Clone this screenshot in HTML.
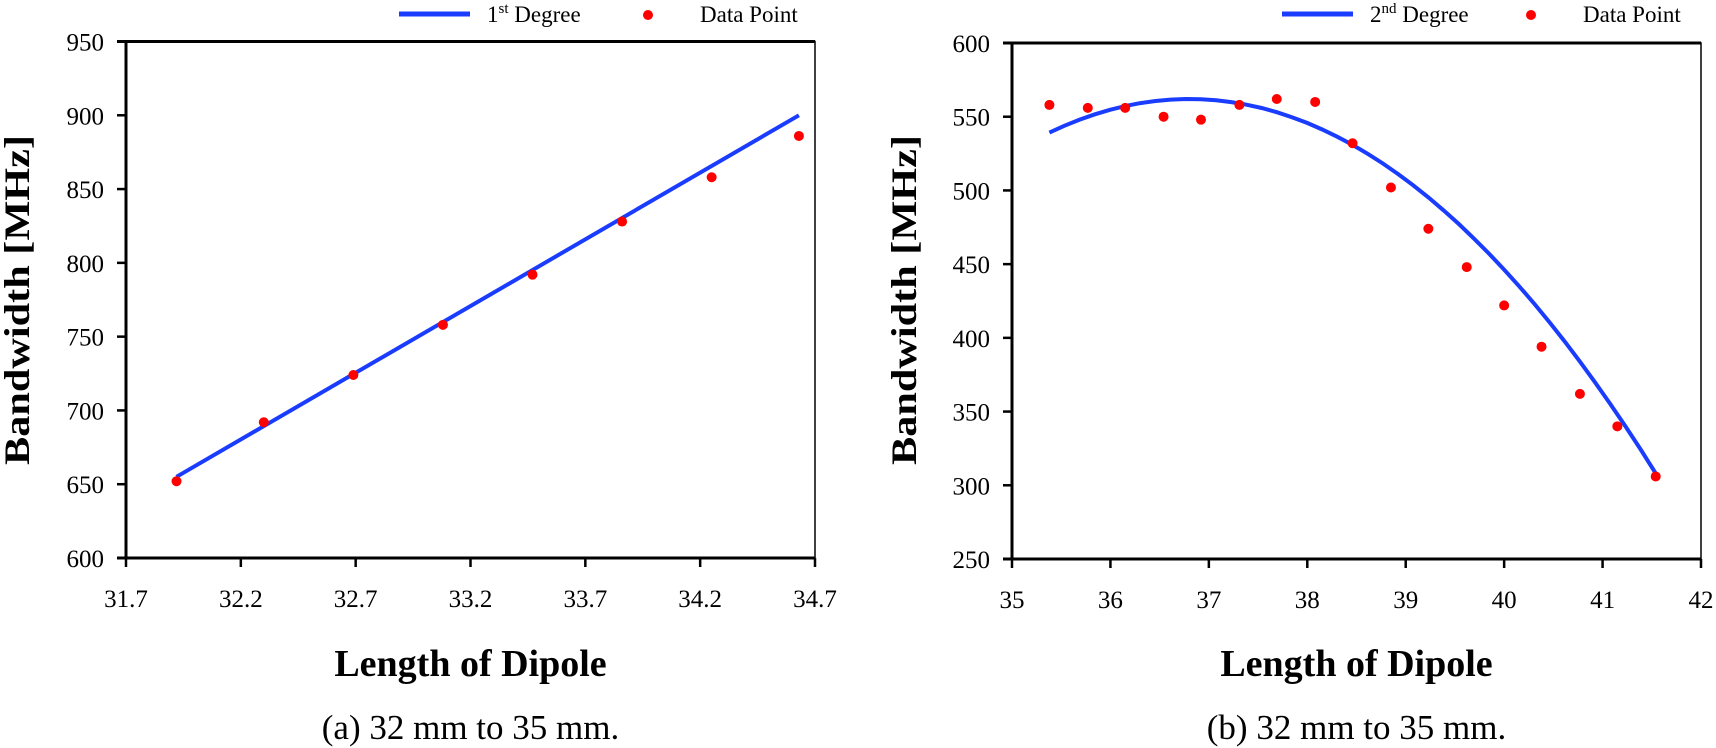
<!DOCTYPE html>
<html><head><meta charset="utf-8"><style>
html,body{margin:0;padding:0;background:#fff}
svg{display:block}
</style></head><body>
<svg id="s" width="1716" height="748" xmlns="http://www.w3.org/2000/svg"></svg>
<script>
const s=document.getElementById('s');let h='';
const F=`font-family="'Liberation Serif','Times New Roman',Times,'DejaVu Serif',serif"`;
function chart(o){
 const X=v=>o.x0+(v-o.xmin)*(o.x1-o.x0)/(o.xmax-o.xmin);
 const Y=v=>o.y1-(v-o.ymin)*(o.y1-o.y0)/(o.ymax-o.ymin);
 h+=`<rect x="${o.x0}" y="${o.y0}" width="${o.x1-o.x0}" height="${o.y1-o.y0}" fill="none" stroke="#000" stroke-width="1.5"/>`;
 h+=`<line x1="${o.x0}" y1="${o.y0}" x2="${o.x0}" y2="${o.y1}" stroke="#000" stroke-width="3"/>`;
 h+=`<line x1="${o.x0-9}" y1="${o.y1}" x2="${o.x1}" y2="${o.y1}" stroke="#000" stroke-width="3"/>`;
 h+=`<line x1="${o.x0-9}" y1="${o.y0}" x2="${o.x1}" y2="${o.y0}" stroke="#000" stroke-width="3"/>`;
 for(let v=o.ymin;v<=o.ymax+1e-6;v+=50){const y=Y(v);
  h+=`<line x1="${o.x0-9}" y1="${y}" x2="${o.x0}" y2="${y}" stroke="#000" stroke-width="2.5"/>`;
  h+=`<text ${F} x="${o.x0-22}" y="${y+9}" font-size="25" text-anchor="end">${v}</text>`;}
 o.xt.forEach(v=>{const x=X(v);
  h+=`<line x1="${x}" y1="${o.y1}" x2="${x}" y2="${o.y1+9}" stroke="#000" stroke-width="2.5"/>`;
  h+=`<text ${F} x="${x}" y="${o.y1+49}" font-size="25" text-anchor="middle">${v}</text>`;});
 let p=o.curve.map(([a,b])=>X(a).toFixed(1)+','+Y(b).toFixed(1)).join(' ');
 h+=`<polyline points="${p}" fill="none" stroke="#1a3cff" stroke-width="4"/>`;
 o.pts.forEach(([a,b])=>h+=`<circle cx="${X(a)}" cy="${Y(b)}" r="5" fill="#ff0000"/>`);
 const cx=(o.x0+o.x1)/2;
 h+=`<text ${F} x="${cx}" y="676" font-size="38" font-weight="bold" text-anchor="middle">Length of Dipole</text>`;
 h+=`<text ${F} x="${cx}" y="739" font-size="35" text-anchor="middle">${o.cap}</text>`;
 h+=`<text ${F} transform="translate(${o.ylx},300) rotate(-90)" font-size="36" font-weight="bold" text-anchor="middle" textLength="330" lengthAdjust="spacingAndGlyphs">Bandwidth [MHz]</text>`;
 const L=o.leg;
 h+=`<line x1="${L}" y1="14" x2="${L+71}" y2="14" stroke="#1a3cff" stroke-width="5"/>`;
 h+=`<text ${F} x="${L+88}" y="22" font-size="23">${o.sup[0]}<tspan font-size="15" dy="-9">${o.sup[1]}</tspan><tspan dy="9"> Degree</tspan></text>`;
 h+=`<circle cx="${L+249}" cy="15" r="5" fill="#ff0000"/>`;
 h+=`<text ${F} x="${L+301}" y="22" font-size="23">Data Point</text>`;
}
chart({x0:126,x1:815,y0:41.5,y1:558,xmin:31.7,xmax:34.7,ymin:600,ymax:950,
 xt:['31.7','32.2','32.7','33.2','33.7','34.2','34.7'],
 curve:[[31.92,655],[34.63,900]],
 pts:[[31.92,652],[32.3,692],[32.69,724],[33.08,758],[33.47,792],[33.86,828],[34.25,858],[34.63,886]],
 cap:'(a) 32 mm to 35 mm.',ylx:29,leg:399,sup:['1','st']});
let cv=[];for(let i=0;i<=40;i++){const x=35.38+i*(41.54-35.38)/40;cv.push([x,562-11.3*(x-36.8)*(x-36.8)]);}
chart({x0:1012,x1:1701,y0:43,y1:559,xmin:35,xmax:42,ymin:250,ymax:600,
 xt:[35,36,37,38,39,40,41,42],curve:cv,
 pts:[[35.38,558],[35.77,556],[36.15,556],[36.54,550],[36.92,548],[37.31,558],[37.69,562],[38.08,560],[38.46,532],[38.85,502],[39.23,474],[39.62,448],[40,422],[40.38,394],[40.77,362],[41.15,340],[41.54,306]],
 cap:'(b) 32 mm to 35 mm.',ylx:916,leg:1282,sup:['2','nd']});
s.innerHTML=h;
</script>
</body></html>
